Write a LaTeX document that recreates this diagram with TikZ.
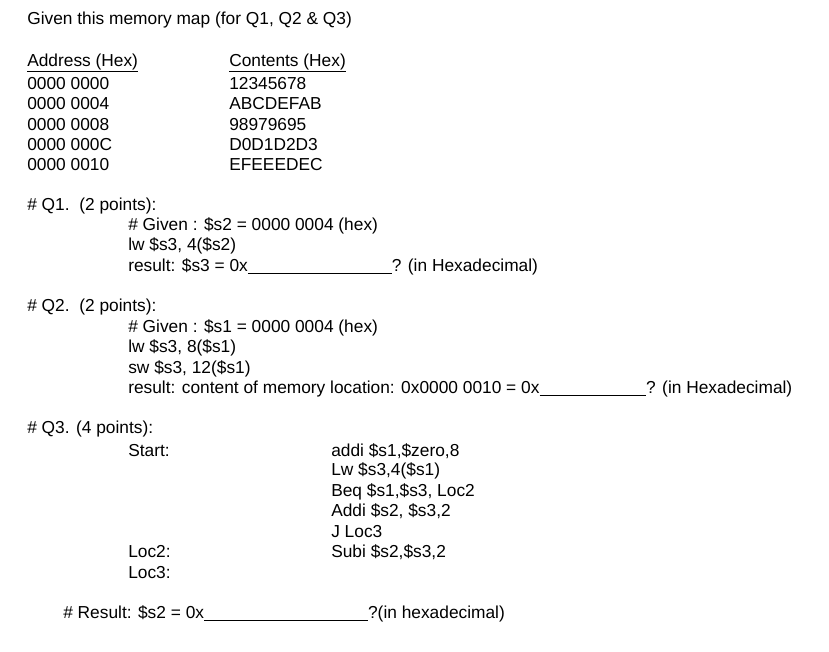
\documentclass[tikz,border=0pt]{standalone}
\usepackage{fontspec}
\setmainfont{Liberation Sans}
\newcommand{\blank}[1]{\rule[-1.5pt]{#1}{0.5pt}}
\begin{document}
\begin{tikzpicture}[x=0.75pt,y=-0.75pt,
    txt/.style={anchor=west,inner sep=0pt,font=\fontsize{13}{15}\selectfont}]
  \useasboundingbox (0,0) rectangle (829,651);
  \node[txt] (title) at (27,20) {Given this memory map (for Q1, Q2 \& Q3)};
  % memory map
  \node[txt] (addr) at (27,63) {\underline{Address (Hex)}};
  \node[txt] (cont) at (229,63) {\underline{Contents (Hex)}};
  \foreach \a/\c [count=\i] in {0000 0000/12345678, 0000 0004/ABCDEFAB,
      0000 0008/98979695, 0000 000C/D0D1D2D3, 0000 0010/EFEEEDEC}{
    \node[txt] (a\i) at (27,63+20.4*\i) {\a};
    \node[txt] (c\i) at (229,63+20.4*\i) {\c};
  }
  % Q1
  \node[txt] (q1) at (27,206) {\# Q1.\ \ (2 points):};
  \node[txt] (q1a) at (128,226) {\# Given : \$s2 = 0000 0004 (hex)};
  \node[txt] (q1b) at (128,246) {lw \$s3, 4(\$s2)};
  \node[txt] (q1c) at (128,267) {result: \$s3 = 0x\blank{108pt}? (in Hexadecimal)};
  % Q2
  \node[txt] (q2) at (27,307) {\# Q2.\ \ (2 points):};
  \node[txt] (q2a) at (128,328) {\# Given : \$s1 = 0000 0004 (hex)};
  \node[txt] (q2b) at (128,348) {lw \$s3, 8(\$s1)};
  \node[txt] (q2c) at (128,369) {sw \$s3, 12(\$s1)};
  \node[txt] (q2d) at (128,389) {result: content of memory location: 0x0000 0010 = 0x\blank{80pt}? (in Hexadecimal)};
  % Q3
  \node[txt] (q3) at (27,429) {\# Q3. (4 points):};
  \node[txt] (start) at (128,451) {Start:};
  \node[txt] (loc2) at (128,552) {Loc2:};
  \node[txt] (loc3) at (128,573) {Loc3:};
  \foreach \s [count=\i] in {addi \$s1{,}\$zero{,}8, Lw \$s3{,}4(\$s1),
      Beq \$s1{,}\$s3{,} Loc2, Addi \$s2{,} \$s3{,}2, J Loc3, Subi \$s2{,}\$s3{,}2}{
    \node[txt] (i\i) at (331,430.8+20.2*\i) {\s};
  }
  \node[txt] (res) at (63,614) {\# Result: \$s2 = 0x\blank{123pt}?(in hexadecimal)};
\end{tikzpicture}
\end{document}
